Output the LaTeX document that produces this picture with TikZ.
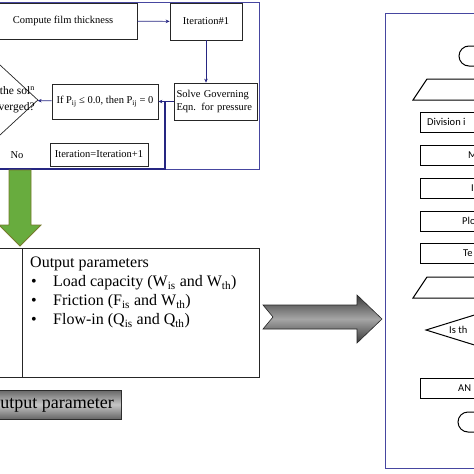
\documentclass[tikz,border=0pt]{standalone}
\usepackage{fontspec}
\setmainfont{Liberation Serif}
\newfontfamily\chartsans{Carlito}
\usetikzlibrary{shapes.geometric, arrows.meta, positioning}

\definecolor{loopblue}{RGB}{70,70,160}
\definecolor{linkblue}{RGB}{38,38,130}
\definecolor{arrowgreen}{RGB}{104,172,62}
\definecolor{arrowolive}{RGB}{118,122,44}

\tikzset{
  stepbox/.style={draw=black!85, line width=0.7pt, minimum height=36pt, font=\fontsize{10.5}{12.5}\selectfont},
  chartbox/.style={draw, line width=1pt, minimum height=20pt, minimum width=120pt, inner sep=0pt},
  charttext/.style={anchor=west, inner sep=0pt, font=\chartsans\fontsize{10.5}{12}\selectfont},
  link/.style={-{Stealth[length=4pt,width=3.5pt]}, linkblue, line width=0.7pt},
}

\begin{document}
\begin{tikzpicture}[x=1pt, y=-1pt]
\useasboundingbox (0,0) rectangle (474,474);
\clip (0,0) rectangle (474,474);

% iteration loop
\draw[loopblue, line width=0.8pt] (-5,2) rectangle (259,169);
\node[stepbox, minimum width=148pt] (film) at (63,21) {Compute film thickness};
\node[stepbox, minimum width=72pt, minimum height=37pt] (iter1) at (206,21.5) {Iteration\#1};
\node[stepbox, minimum width=83pt, minimum height=37pt, inner sep=2pt, align=left, text width=78pt] (solve) at (215.5,101.5) {Solve Governing\\Eqn. for pressure};
\node[stepbox, minimum width=106pt, minimum height=35pt] (ifbox) at (105,101.5) {If P\textsubscript{ij} ≤ 0.0, then P\textsubscript{ij} = 0};
\node[diamond, draw=black!85, line width=0.7pt, minimum width=106pt, minimum height=98pt, inner sep=0pt] (conv) at (-15,100) {};
\node[anchor=east, inner sep=0pt, font=\fontsize{11.5}{16}\selectfont, align=right] (convtext) at (35,100) {Is the sol\textsuperscript{n}\\converged?};
\node[font=\fontsize{10.5}{12.5}\selectfont] (no) at (17,155) {No};
\node[stepbox, minimum width=98pt, minimum height=23pt] (iterinc) at (99,154.5) {Iteration=Iteration+1};
\coordinate (loopstart) at (-5,169);
\coordinate (loopfoot) at (165,169);

\draw[link] (film) -- (iter1);
\draw[link] (iter1.south) -- (iter1.south |- solve.north);
\draw[link] (solve) -- (ifbox);
\draw[link] (ifbox) -- (conv);
\draw[linkblue, line width=1.3pt] (loopstart) -- (loopfoot) -- (loopfoot |- ifbox.east);

% down arrow
\draw[arrowolive, fill=arrowgreen, line width=0.8pt] (9,170) -- (31,170) -- (31,225) -- (41,225) -- (20,246) -- (-1,225) -- (9,225) -- cycle;

% output parameters
\draw[black!85, line width=0.9pt] (-5,248) rectangle (259,377);
\draw[black!85, line width=0.9pt] (22,248) -- (22,377);
\node[anchor=north west, inner sep=0pt, align=left, font=\fontsize{16}{19}\selectfont] (outlist) at (30,257) {Output parameters\\
\makebox[23pt][l]{\hspace{1pt}\textbullet}Load capacity (W\textsubscript{is} and W\textsubscript{th})\\
\makebox[23pt][l]{\hspace{1pt}\textbullet}Friction (F\textsubscript{is} and W\textsubscript{th})\\
\makebox[23pt][l]{\hspace{1pt}\textbullet}Flow-in (Q\textsubscript{is} and Q\textsubscript{th})};

\shadedraw[top color=gray!80!black, bottom color=gray!80!black, middle color=gray!45, draw=gray!35!black, line width=0.6pt] (-5,390) rectangle (121,419);
\node[anchor=east, inner sep=0pt, font=\fontsize{18}{20}\selectfont] (outbtn) at (114,404) {Output parameter};

% right arrow
\shadedraw[top color=gray!45!black, bottom color=gray!45!black, middle color=gray!70, draw=gray!30!black, line width=0.6pt] (263,305) -- (357,305) -- (357,295) -- (382,319) -- (357,343) -- (357,329) -- (263,329) -- (273,317) -- cycle;

% flowchart
\draw[loopblue, line width=0.8pt] (385,13) rectangle (520,468);
\node[draw, line width=1pt, rounded corners=10pt, minimum width=80pt, minimum height=20pt] (start) at (499,56) {};
\draw[line width=1pt] (413,100) -- (427,79) -- (520,79) -- (506,100) -- cycle;
\node[chartbox] (divide) at (480,122) {};
\node[chartbox] (mesh) at (480,155) {};
\node[chartbox] (bound) at (480,188) {};
\node[chartbox] (plot) at (480,221) {};
\node[chartbox] (test) at (480,253.5) {};
\draw[line width=1pt] (413,298) -- (427,277) -- (520,277) -- (506,298) -- cycle;
\draw[line width=1pt] (426,330) -- (510,304) -- (594,330) -- (510,356) -- cycle;
\node[chartbox] (ann) at (480,388.5) {};
\node[draw, line width=1pt, rounded corners=10pt, minimum width=80pt, minimum height=20pt] (stop) at (498,422) {};
\node[charttext] at (427,122) {Division i};
\node[charttext] at (468,155) {M};
\node[charttext] at (471,188) {I};
\node[charttext] at (462,221) {Plo};
\node[charttext] at (463,253.5) {Te};
\node[charttext] at (449,330) {Is th};
\node[charttext] at (458,388.5) {AN};
\end{tikzpicture}
\end{document}
